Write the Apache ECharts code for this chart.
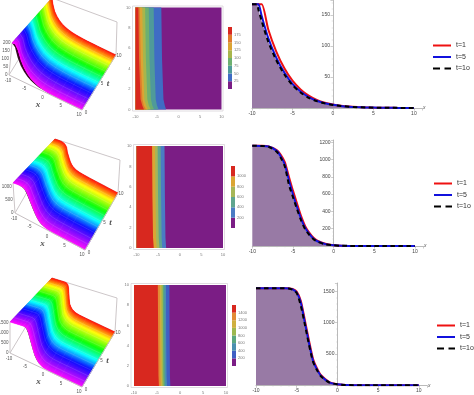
<!DOCTYPE html>
<html><head><meta charset="utf-8">
<style>html,body{margin:0;padding:0;background:#fff}#c{width:474px;height:395px}</style>
<script src="https://cdn.jsdelivr.net/npm/echarts@6/dist/echarts.min.js"></script>
</head><body><div id="c"></div>
<script>
// ---------- data ----------
const seriesNames = ['t=1', 't=5', 't=1o'];
const xTop = [-10,-9.4,-9.2,-8.8,-8,-7,-6,-5,-4,-3,-2,-1,0,1,2,3,4,5,6,7,8,9,10];
const a_t1  = [167,167,167,167,127,91,64,44,30,20,13.2,8.7,5.8,3.8,2.5,1.7,1.1,.7,.5,.3,.2,.1,.1];
const a_t5  = [167,167,167,148,113,81,57,39,26.5,17.5,11.7,7.8,5.2,3.4,2.2,1.5,1,.7,.4,.3,.2,.1,.1];
const a_t10 = [167,167,158,140,107,77,54,37,25,16.5,11,7.5,5,3.3,2.1,1.4,.9,.6,.4,.3,.2,.1,.1];

const xSurfTop = [-10,-9,-8,-7,-6,-5,-4,-3,-2,-1,0,1,2,3,4,5,6,7,8,9,10];
const s_t0  = [420,260,172,120,83,57,38,26,17,11,7.2,4.8,3.1,2,1.3,.9,.6,.4,.2,.1,.1];
const s_t04 = [350,215,145,103,72,50,34,23,15,10,6.6,4.3,2.8,1.9,1.2,.8,.5,.3,.2,.1,.1];
const s_t1  = [300,185,127,91,64,44,30,20,13.2,8.7,5.8,3.8,2.5,1.7,1.1,.7,.5,.3,.2,.1,.1];
const s_t5  = [245,160,113,81,57,39,26.5,17.5,11.7,7.8,5.2,3.4,2.2,1.5,1,.7,.4,.3,.2,.1,.1];
const s_t10 = [225,150,107,77,54,37,25,16.5,11,7.5,5,3.3,2.1,1.4,.9,.6,.4,.3,.2,.1,.1];

const xLower = [-10,-9,-8,-7,-6.5,-6,-5.5,-5,-4.5,-4,-3.5,-3,-2.5,-2,-1,0,1,2,3,4,5,6,7,8,9,10];
const b_t0  = [1160,1159,1155,1125,1080,1000,860,690,540,385,260,175,110,70,28,11,4,1,0,0,0,0,0,0,0,0];
const b_t1  = [1160,1159,1152,1110,1055,970,800,640,490,345,230,155,98,62,25,10,4,1,0,0,0,0,0,0,0,0];
const b_t5  = [1160,1158,1150,1100,1035,940,760,595,450,315,210,140,88,55,22,9,3,1,0,0,0,0,0,0,0,0];
const b_t10 = [1160,1158,1148,1090,1020,920,710,566,425,295,195,130,82,50,20,8,3,1,0,0,0,0,0,0,0,0];

const c_t0  = [1550,1550,1550,1550,1550,1549,1542,1505,1380,1090,770,460,295,175,58,20,7,2,0,0,0,0,0,0,0,0];
const c_t1  = [1550,1550,1550,1550,1550,1548,1536,1495,1350,1040,720,425,270,160,52,18,6,2,0,0,0,0,0,0,0,0];
const c_t5  = [1550,1550,1550,1550,1549,1546,1530,1480,1320,1000,680,395,250,148,48,16,5,2,0,0,0,0,0,0,0,0];
const c_t10 = [1550,1550,1550,1550,1549,1545,1525,1470,1270,970,650,378,240,140,45,15,5,2,0,0,0,0,0,0,0,0];

const levelsTop = [25,50,75,100,125,150,175];
const levelsMid = [200,400,600,800,1000];
const levelsLow = [200,400,600,800,1000,1200,1400];
const xTicks3d = [-10,-5,0,5,10];
const tTicks3d = [0,5,10];
const zTicksTop = [0,50,100,150,200];
const zTicksMid = [0,500,1000];
const zTicksLow = [0,500,1000,1500];

// ---------- styling and layout ----------
const colorsTop = ['#7b1d85','#3f6cc4','#4f9a9a','#6db070','#a7b64c','#dba534','#e07a2c','#d8281f'];
const colorsMid = ['#7b1d85','#4a7cc4','#5fa58f','#a6b658','#dba534','#d8281f'];
const colorsLow = ['#7b1d85','#3f5fc4','#4a8fb0','#5aa77f','#9db84f','#cfb03f','#e28a35','#d8281f'];
const hueAt = [0,.3,.47,.65,.85,1];
const hueVal = [300,240,180,120,60,0];
const FONT = '"Liberation Sans", sans-serif';

const panels = [
 { T:0, zTop:200, skirt:.9,
   box:{b00:[9,75],b10:[82,110],b01:[43,20],b11:[116,55],t00:[12,43],t10:[77,67],t01:[52,-2],t11:[117,22]},
   xs:xSurfTop, rows:[[0,s_t0],[.4,s_t04],[1,s_t1],[5,s_t5],[10,s_t10]], zTicks:zTicksTop,
   levels:levelsTop, colors:colorsTop, barMax:200,
   cont:{left:135.5,top:7.5,width:86,height:102},
   bar:{left:228,top:27,width:4,height:62},
   lineXs:xTop, lines:[a_t1,a_t5,a_t10], line:{left:252,top:0,width:170,height:108},
   yMax:174, yInt:50, legend:{left:432,top:42} },
 { T:135, zTop:1160, skirt:.2,
   box:{b00:[15,78],b10:[85,115],b01:[48,21],b11:[118,58],t00:[13,48],t10:[78,69],t01:[55,4],t11:[120,25]},
   xs:xLower, rows:[[0,b_t0],[1,b_t1],[5,b_t5],[10,b_t10]], zTicks:zTicksMid,
   levels:levelsMid, colors:colorsMid, barMax:1200,
   cont:{left:136.5,top:146,width:86.5,height:102},
   bar:{left:231,top:166,width:4,height:62},
   lineXs:xLower, lines:[b_t1,b_t5,b_t10], line:{left:252.3,top:140,width:170.8,height:106},
   yMax:1226, yInt:200, legend:{left:433,top:180} },
 { T:265, zTop:1550, skirt:.15,
   box:{b00:[10,88],b10:[82,122],b01:[43,33],b11:[115,67],t00:[10,57],t10:[75,77],t01:[52,13],t11:[117,33]},
   xs:xLower, rows:[[0,c_t0],[1,c_t1],[5,c_t5],[10,c_t10]], zTicks:zTicksLow,
   levels:levelsLow, colors:colorsLow, barMax:1600,
   cont:{left:134,top:285,width:92,height:102},
   bar:{left:232,top:305,width:4,height:61},
   lineXs:xLower, lines:[c_t1,c_t5,c_t10], line:{left:256,top:283,width:171,height:102.3},
   yMax:1632, yInt:500, legend:{left:436,top:322} }
];

const lerp=(a,b,f)=>a+(b-a)*f;
const lerp2=(p,q,f)=>[lerp(p[0],q[0],f),lerp(p[1],q[1],f)];
const plain=v=>String(v);

function hue(f){
  let k=0; while(k<hueAt.length-2 && f>hueAt[k+1]) k++;
  return lerp(hueVal[k],hueVal[k+1],(f-hueAt[k])/(hueAt[k+1]-hueAt[k]));
}
function surfZ(P,i,t){ // row i of the x grid at time t
  const r=P.rows; let k=0;
  while(k<r.length-2 && t>r[k+1][0]) k++;
  const f=(t-r[k][0])/(r[k+1][0]-r[k][0]);
  return lerp(r[k][1][i],r[k+1][1][i],f);
}
function project(P,x,t,z){
  const B=P.box,a=(x+10)/20,b=t/10,c=Math.max(0,Math.min(z/P.zTop,1));
  const base=lerp2(lerp2(B.b00,B.b10,a),lerp2(B.b01,B.b11,a),b);
  const top =lerp2(lerp2(B.t00,B.t10,a),lerp2(B.t01,B.t11,a),b);
  return lerp2(base,top,c);
}
function levelX(row,xs,lv){ // rightmost x where this row is still above the level
  for(let i=xs.length-1;i>0;i--){
    if(row[i-1]>=lv && row[i]<lv) return lerp(xs[i-1],xs[i],(row[i-1]-lv)/(row[i-1]-row[i]));
  }
  return row[0]>=lv?10:-10;
}

const grids=[],xAxes=[],yAxes=[],series=[],legends=[];
let ax=0;
function addGrid(g,xa,ya){grids.push(g);xa.gridIndex=ya.gridIndex=ax;xAxes.push(xa);yAxes.push(ya);return ax++;}
function custom(idx,data,render,z){
  series.push({type:'custom',coordinateSystem:'cartesian2d',xAxisIndex:idx,yAxisIndex:idx,
    data,renderItem:render,silent:true,z:z||2,animation:false});
}

panels.forEach(P=>{
  // ----- 3D surface -----
  const g3=addGrid({left:0,top:P.T,width:135,height:130},
    {type:'value',min:0,max:135,show:false},{type:'value',min:0,max:130,inverse:true,show:false});
  const pt=(api,x,t,z)=>api.coord(project(P,x,t,z));
  const B=P.box, edge=(api,p,q,w)=>({type:'line',shape:{x1:api.coord(p)[0],y1:api.coord(p)[1],x2:api.coord(q)[0],y2:api.coord(q)[1]},
      style:{stroke:'#c6bfc2',lineWidth:w||.9}});
  custom(g3,[0,1,2,3,4,5,6],
    (p,api)=>edge(api,B[['b01','b00','b01','b00','b11','t00','t01'][p.dataIndex]],B[['b11','b01','t01','t00','t11','t01','t11'][p.dataIndex]]),2);
  // dark underside along the t=0 edge
  custom(g3,[0],(p,api)=>{
    const pts=[],n=P.xs.length;
    for(let i=0;i<n;i++) pts.push(pt(api,P.xs[i],0,surfZ(P,i,0)));
    for(let i=n-1;i>=0;i--){
      const x=P.xs[i],sx=Math.min(10,x+P.skirt);let j=0;
      while(j<n-2&&P.xs[j+1]<sx)j++;
      const f=(sx-P.xs[j])/(P.xs[j+1]-P.xs[j]);
      pts.push(pt(api,x,0,lerp(surfZ(P,j,0),surfZ(P,j+1,0),f)));
    }
    return {type:'polygon',shape:{points:pts},style:{fill:'#3a0426'}};
  },3);
  const strips=[];const N=120;
  for(let k=N-1;k>=0;k--) strips.push([k*10/N,(k+1)*10/N]);
  custom(g3,strips,(p,api)=>{
    const t0=api.value(0),t1=api.value(1),n=P.xs.length,pts=[];
    for(let i=0;i<n;i++) pts.push(pt(api,P.xs[i],t1,surfZ(P,i,t1)));
    for(let i=n-1;i>=0;i--) pts.push(pt(api,P.xs[i],t0,surfZ(P,i,t0)));
    const col=`hsl(${hue((t0+t1)/20)},100%,50%)`;
    return {type:'polygon',shape:{points:pts},style:{fill:col,stroke:col,lineWidth:.4}};
  },4);
  // faint mesh
  const meshT=[1,2,3,4,5,6,7,8,9];
  custom(g3,meshT,(p,api)=>{
    const t=meshT[p.dataIndex];
    const pts=P.xs.map((x,i)=>pt(api,x,t,surfZ(P,i,t)));
    return {type:'polyline',shape:{points:pts},style:{stroke:'rgba(255,255,255,.18)',fill:'none',lineWidth:.7}};
  },5);
  const meshX=[3,5,7,9,11,13,15,17,19].map(i=>Math.min(i,P.xs.length-1));
  custom(g3,meshX,(p,api)=>{
    const i=meshX[p.dataIndex],pts=[];
    for(let t=0;t<=10;t+=.5) pts.push(pt(api,P.xs[i],t,surfZ(P,i,t)));
    return {type:'polyline',shape:{points:pts},style:{stroke:'rgba(255,255,255,.1)',fill:'none',lineWidth:.5}};
  },5);
  custom(g3,[0,1],(p,api)=>edge(api,B[['b00','b10'][p.dataIndex]],B[['b10','b11'][p.dataIndex]],1),6);
  // tick labels and axis names of the box
  const txt=(api,q,dx,dy,s,font,align)=>{const c=api.coord(q);return {type:'text',x:c[0]+dx,y:c[1]+dy,
     style:{text:String(s),fill:'#555',font:font||('4.5px '+FONT),align:align||'center',verticalAlign:'middle'}};};
  custom(g3,xTicks3d,(p,api)=>{const v=xTicks3d[p.dataIndex];
     return txt(api,project(P,v,0,0),v==-10?-1:-3,v==-10?6:5,v);},7);
  custom(g3,tTicks3d,(p,api)=>{const v=tTicks3d[p.dataIndex];
     return txt(api,project(P,10,v,0),v==0?4:3,v==0?3:1,v);},7);
  custom(g3,P.zTicks,(p,api)=>{const v=P.zTicks[p.dataIndex];
     return txt(api,project(P,-10,0,v),-1.5,0,v,null,'right');},7);
  const AX='italic bold 9px "Liberation Serif", serif';
  custom(g3,[0],(p,api)=>txt(api,project(P,0,0,0),-7.5,12,'x',AX),7);
  custom(g3,[0],(p,api)=>txt(api,project(P,10,5,0),9,1,'t',AX),7);

  // ----- contour map -----
  const lab={fontSize:4,color:'#777',fontFamily:FONT,formatter:plain};
  const gc=addGrid(P.cont,
    {type:'value',min:-10,max:10,interval:5,axisLine:{show:false},splitLine:{show:false},
     axisTick:{show:false},axisLabel:Object.assign({margin:5},lab)},
    {type:'value',min:0,max:10,interval:2,axisLine:{show:false},splitLine:{show:false},
     axisTick:{show:false},axisLabel:Object.assign({margin:5},lab)});
  custom(gc,[0],(p,api)=>{
    const a=api.coord([-10,10]),b=api.coord([10,0]);
    return {type:'rect',shape:{x:a[0]-3,y:a[1]-1.5,width:b[0]-a[0]+4.5,height:b[1]-a[1]+3},
      style:{fill:'#fff',stroke:'#d8d3d8',lineWidth:.8}};
  },2);
  custom(gc,[0],(p,api)=>{
    const a=api.coord([-10,10]),b=api.coord([10,0]);
    return {type:'rect',shape:{x:a[0],y:a[1],width:b[0]-a[0],height:b[1]-a[1]},style:{fill:P.colors[0]}};
  },3);
  P.levels.forEach((lv,li)=>{
    custom(gc,[lv],(p,api)=>{
      const pts=[api.coord([-10,10])];
      for(let k=P.rows.length-1;k>=0;k--){
        pts.push(api.coord([levelX(P.rows[k][1],P.xs,lv),P.rows[k][0]]));
      }
      pts.push(api.coord([-10,0]));
      return {type:'polygon',shape:{points:pts},style:{fill:P.colors[li+1]}};
    },4+li);
  });

  // ----- colour bar -----
  const edges=[0].concat(P.levels,[P.barMax]);
  const gb=addGrid(P.bar,{type:'value',min:0,max:1,show:false},
    {type:'value',min:0,max:P.barMax,interval:P.levels[0],position:'right',
     axisLine:{show:false},splitLine:{show:false},
     axisTick:{show:true,length:1,lineStyle:{color:'#bbb',width:.5}},
     axisLabel:Object.assign({margin:2,showMinLabel:false,showMaxLabel:false},lab)});
  custom(gb,P.colors.map((c,i)=>i),(p,api)=>{
    const i=p.dataIndex,a=api.coord([0,edges[i+1]]),b=api.coord([1,edges[i]]);
    return {type:'rect',shape:{x:a[0],y:a[1],width:b[0]-a[0],height:b[1]-a[1]},style:{fill:P.colors[i]}};
  },3);

  // ----- line chart -----
  const axLine={onZero:false,lineStyle:{color:'#a8a8a8',width:.8}};
  const tick={length:2.5,lineStyle:{color:'#aaa',width:.6}};
  const minor={show:true,splitNumber:5,length:1.3,lineStyle:{color:'#bbb',width:.4}};
  const lab2={fontSize:5,color:'#444',fontFamily:FONT,formatter:plain};
  const gl=addGrid(P.line,
    {type:'value',min:-10,max:11,interval:5,axisLine:axLine,axisTick:tick,minorTick:minor,splitLine:{show:false},
     name:'x',nameLocation:'end',nameGap:1,nameTextStyle:{fontSize:5,fontStyle:'italic',color:'#555'},
     axisLabel:Object.assign({margin:3,showMaxLabel:false},lab2)},
    {type:'value',min:0,max:P.yMax,interval:P.yInt,offset:-P.line.width*10/21,
     axisLine:axLine,axisTick:tick,minorTick:minor,splitLine:{show:false},
     axisLabel:Object.assign({margin:3,showMinLabel:false,showMaxLabel:false},lab2)});
  const pairs=a=>P.lineXs.map((x,i)=>[x,a[i]]);
  const base={type:'line',xAxisIndex:gl,yAxisIndex:gl,showSymbol:false,symbol:'none',smooth:.25,animation:false,silent:true};
  series.push(Object.assign({},base,{data:pairs(P.lines[2]),lineStyle:{width:0},
     areaStyle:{color:'#987aa5',opacity:1},z:2}));
  const styles=[{color:'#ee1111',width:2},{color:'#1111dd',width:2},{color:'#000000',width:2,type:[4.5,3.5]}];
  seriesNames.forEach((n,i)=>{
    series.push(Object.assign({},base,{name:n,data:pairs(P.lines[i]),lineStyle:styles[i],itemStyle:{color:styles[i].color},z:3+i}));
  });
  legends.push({show:true,orient:'vertical',left:P.legend.left,top:P.legend.top,
     data:[seriesNames[0],seriesNames[1],{name:seriesNames[2],lineStyle:{type:[7,4.5]}}],selectedMode:false,
     itemWidth:18,itemHeight:1,itemGap:4.5,padding:0,itemStyle:{opacity:0},
     textStyle:{fontSize:7,color:'#333',fontFamily:FONT}});
});

const chart=echarts.init(document.getElementById('c'),null,{renderer:'canvas'});
chart.setOption({animation:false,backgroundColor:'#fff',textStyle:{fontFamily:FONT},
  grid:grids,xAxis:xAxes,yAxis:yAxes,series,legend:legends});
</script></body></html>
